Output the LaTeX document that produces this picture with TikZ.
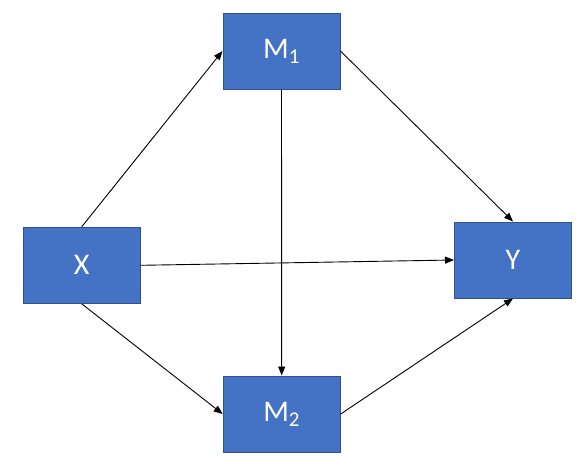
\documentclass[tikz,border=0pt]{standalone}
\usepackage{fontspec}
\setmainfont{Carlito}
\usetikzlibrary{arrows.meta}
\definecolor{boxfill}{HTML}{4472C4}
\definecolor{boxline}{HTML}{2F528F}
\begin{document}
\begin{tikzpicture}[x=1pt,y=-1pt,
  vbox/.style={draw=boxline,fill=boxfill,line width=1pt,minimum width=117pt,minimum height=76pt,inner sep=0pt,text=white,font=\fontsize{30}{34}\selectfont},
  conn/.style={line width=0.9pt,-{Triangle[length=9pt,width=7pt]}}]
\useasboundingbox (0,0) rectangle (581,466);
\node[vbox] (M1) at (281.5,51) {M\textsubscript{1}};
\node[vbox] (X) at (81.7,265.3) {X};
\node[vbox] (Y) at (513,260) {Y};
\node[vbox] (M2) at (281.7,414) {M\textsubscript{2}};
\draw[conn] (X.north) -- (M1.west);
\draw[conn] (M1.east) -- (Y.north);
\draw[conn] (M1.south) -- (M2.north);
\draw[conn] (X.east) -- (Y.west);
\draw[conn] (X.south) -- (M2.west);
\draw[conn] (M2.east) -- (Y.south);
\end{tikzpicture}
\end{document}
